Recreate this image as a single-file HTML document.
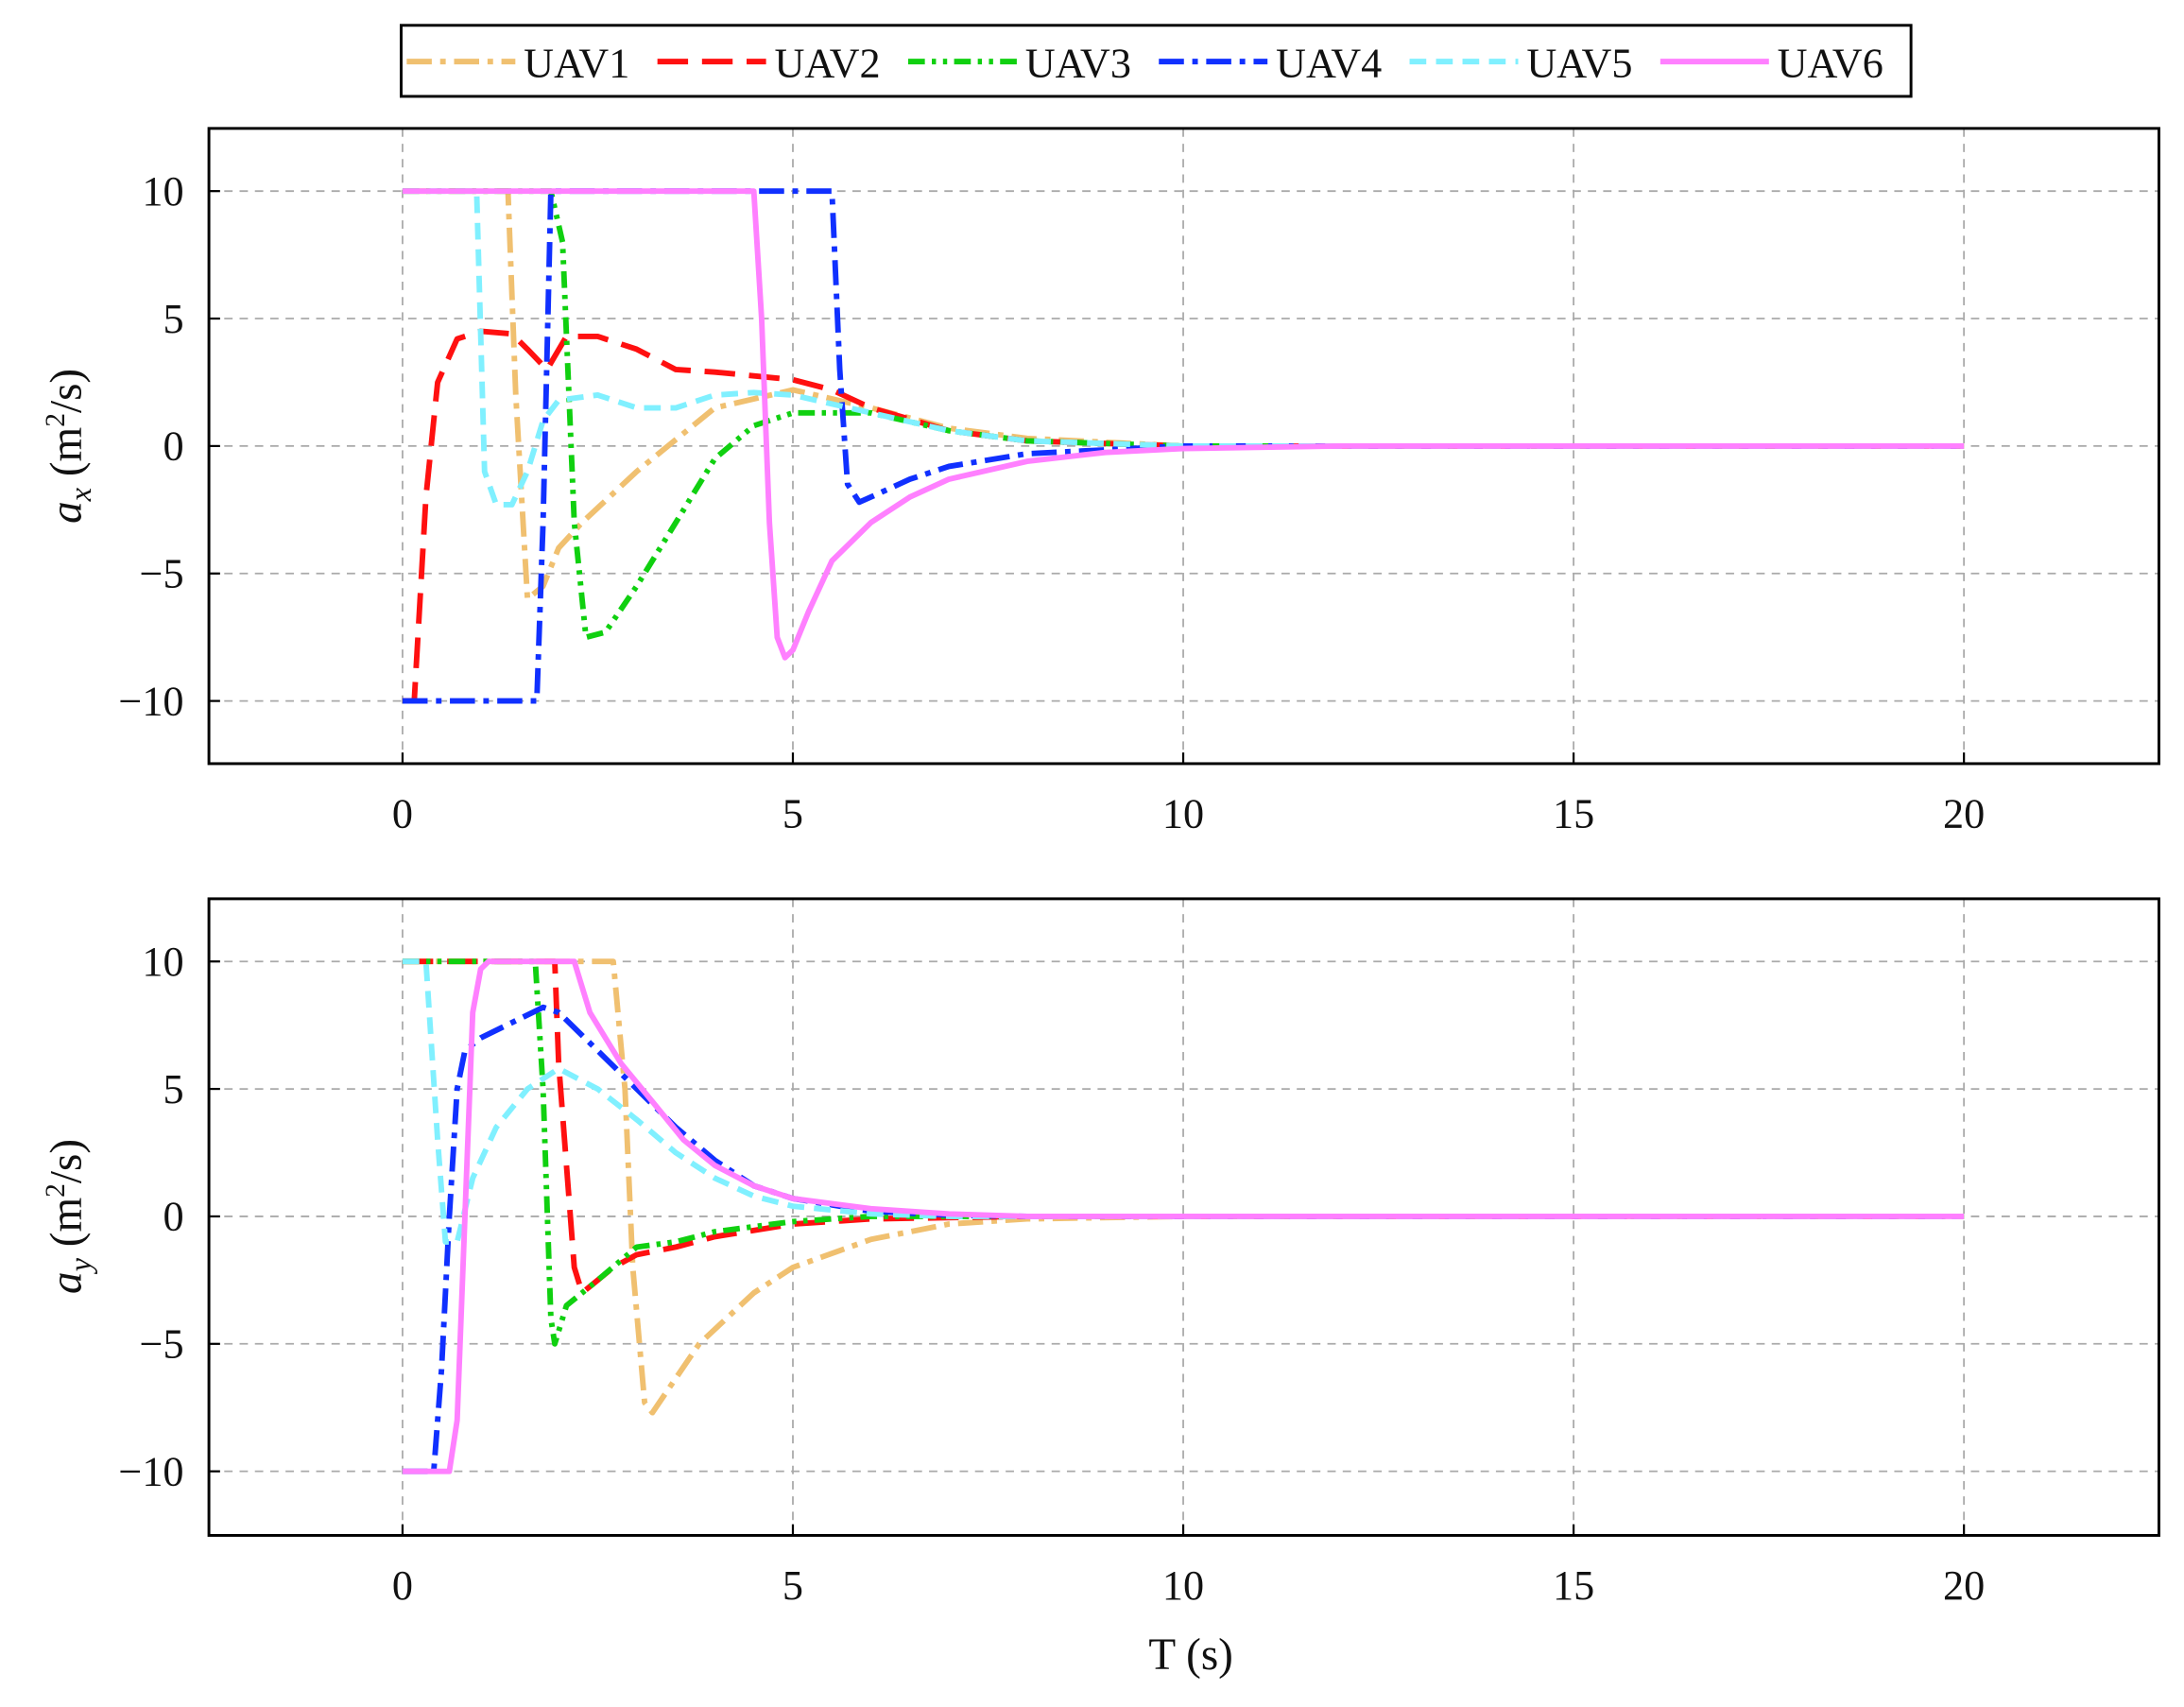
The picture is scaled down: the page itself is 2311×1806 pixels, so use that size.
<!DOCTYPE html>
<html><head><meta charset="utf-8"><style>
html,body{margin:0;padding:0;background:#fff}
svg{display:block}
text{font-family:"Liberation Serif",serif;fill:#111}
</style></head><body>
<svg id="s" width="2311" height="1806" viewBox="0 0 1568 1225" xmlns="http://www.w3.org/2000/svg">
<rect x="0" y="0" width="1568" height="1225" fill="#fff"/>
<rect x="288" y="18" width="1084" height="51" fill="#fff" stroke="#000" stroke-width="2"/>
<g font-size="30">
<line x1="292" y1="44" x2="370" y2="44" stroke="#f0c070" stroke-width="4" stroke-dasharray="18,6,4,6"/>
<text x="376" y="55">UAV1</text>
<line x1="472" y1="44" x2="550" y2="44" stroke="#ff1010" stroke-width="4" stroke-dasharray="22,10"/>
<text x="556" y="55">UAV2</text>
<line x1="652" y1="44" x2="730" y2="44" stroke="#10d010" stroke-width="4" stroke-dasharray="12,5,3,5,3,5"/>
<text x="736" y="55">UAV3</text>
<line x1="832" y1="44" x2="910" y2="44" stroke="#1030ff" stroke-width="4" stroke-dasharray="18,6,4,6"/>
<text x="916" y="55">UAV4</text>
<line x1="1012" y1="44" x2="1090" y2="44" stroke="#80f0ff" stroke-width="4" stroke-dasharray="12,7"/>
<text x="1096" y="55">UAV5</text>
<line x1="1192" y1="44" x2="1270" y2="44" stroke="#ff80ff" stroke-width="4"/>
<text x="1276" y="55">UAV6</text>
</g>
<g id="plots"></g>
</svg>
<script>
(function(){
const NS="http://www.w3.org/2000/svg";
const g=document.getElementById('plots');
function el(t,a,txt){const e=document.createElementNS(NS,t);for(const k in a)e.setAttribute(k,a[k]);if(txt!==undefined)e.textContent=txt;g.appendChild(e);return e;}
const X=t=>289+56.05*t;
const styles=[
 {c:"#f0c070",d:"18,6,4,6"},{c:"#ff1010",d:"22,10"},{c:"#10d010",d:"12,5,3,5,3,5"},
 {c:"#1030ff",d:"18,6,4,6"},{c:"#80f0ff",d:"12,7"},{c:"#ff80ff",d:"none"}];
const dTop=[
[[0,10],[1.35,10],[1.45,2],[1.6,-6],[1.8,-5.5],[2,-4],[2.3,-3],[3,-1],[4,1.5],[5,2.2],[6,1.5],[7,0.7],[8,0.3],[10,0],[20,0]],
[[0,-10],[0.15,-10],[0.3,-2],[0.45,2.5],[0.7,4.2],[1,4.5],[1.4,4.4],[1.6,3.8],[1.85,3],[2.1,4.3],[2.5,4.3],[3,3.8],[3.5,3],[4,2.9],[5,2.6],[5.5,2.2],[6,1.5],[7,0.6],[8,0.2],[10,0],[20,0]],
[[0,10],[1.9,10],[2.05,8],[2.2,-3],[2.35,-7.5],[2.6,-7.3],[3,-5.5],[3.5,-3],[4,-0.5],[4.5,0.8],[5,1.3],[6,1.3],[7,0.6],[8,0.2],[10,0],[20,0]],
[[0,-10],[1.72,-10],[1.8,-3],[1.9,10],[5.5,10],[5.6,3],[5.7,-1.5],[5.85,-2.2],[6,-2],[6.5,-1.3],[7,-0.8],[8,-0.3],[10,0],[20,0]],
[[0,10],[0.95,10],[1.05,-1],[1.2,-2.3],[1.4,-2.3],[1.6,-1],[1.8,1],[2,1.8],[2.5,2],[3,1.5],[3.5,1.5],[4,2],[4.5,2.1],[5,2],[6,1.3],[7,0.6],[8,0.2],[10,0],[20,0]],
[[0,10],[4.5,10],[4.6,5],[4.7,-3],[4.8,-7.5],[4.9,-8.3],[5,-8],[5.2,-6.5],[5.5,-4.5],[6,-3],[6.5,-2],[7,-1.3],[8,-0.6],[9,-0.25],[10,-0.1],[12,0],[20,0]]];
const dBot=[
[[0,10],[2.7,10],[2.85,5],[2.95,-2],[3.1,-7.3],[3.2,-7.7],[3.4,-6.8],[3.8,-5],[4.5,-3],[5,-2],[6,-0.9],[7,-0.3],[8,-0.1],[10,0],[20,0]],
[[0,10],[1.95,10],[2,6],[2.1,2],[2.2,-2],[2.3,-3],[2.5,-2.5],[2.7,-2],[3,-1.5],[3.5,-1.2],[4,-0.8],[5,-0.3],[6,-0.1],[8,0],[20,0]],
[[0,10],[1.7,10],[1.8,5],[1.9,-4],[1.95,-5],[2.1,-3.5],[2.5,-2.5],[3,-1.2],[3.5,-1],[4,-0.6],[5,-0.2],[6,0],[20,0]],
[[0,-10],[0.4,-10],[0.5,-6],[0.6,0],[0.7,5],[0.8,6.5],[1,7],[1.4,7.6],[1.8,8.2],[2,8],[2.5,6.5],[3,5],[3.5,3.5],[4,2.2],[4.5,1.2],[5,0.7],[6,0.2],[7,0.05],[8,0],[20,0]],
[[0,10],[0.3,10],[0.45,3],[0.55,-1],[0.7,-1],[0.9,1.5],[1.2,3.5],[1.6,5],[2,5.8],[2.5,5],[3,3.8],[3.5,2.5],[4,1.5],[4.5,0.8],[5,0.4],[6,0.1],[7,0],[20,0]],
[[0,-10],[0.6,-10],[0.7,-8],[0.8,0],[0.9,8],[1,9.7],[1.1,10],[2.2,10],[2.4,8],[2.8,6],[3.2,4.5],[3.6,3],[4,2],[4.5,1.2],[5,0.7],[6,0.3],[7,0.1],[8,0],[20,0]]];
function plot(y0,y1,zero,data,lab){
  const Y=v=>zero-18.3*v;
  for(const t of [0,5,10,15,20]) el('line',{x1:X(t),x2:X(t),y1:y0,y2:y1,stroke:"#aaa","stroke-width":1.2,"stroke-dasharray":"6,5"});
  for(const v of [-10,-5,0,5,10]) el('line',{x1:150,x2:1550,y1:Y(v),y2:Y(v),stroke:"#aaa","stroke-width":1.2,"stroke-dasharray":"6,5"});
  data.forEach((d,i)=>{el('polyline',{points:d.map(p=>X(p[0]).toFixed(1)+","+Y(p[1]).toFixed(1)).join(" "),fill:"none",stroke:styles[i].c,"stroke-width":4,"stroke-dasharray":styles[i].d,"stroke-linejoin":"round"});});
  el('rect',{x:150,y:y0,width:1400,height:y1-y0,fill:"none",stroke:"#000","stroke-width":2});
  for(const v of [-10,-5,0,5,10]){el('text',{x:132,y:Y(v)+10,"text-anchor":"end","font-size":30},v===-10?"\u221210":v===-5?"\u22125":String(v));
    el('line',{x1:150,x2:158,y1:Y(v),y2:Y(v),stroke:"#000","stroke-width":1.5});}
  for(const t of [0,5,10,15,20]){el('text',{x:X(t),y:y1+46,"text-anchor":"middle","font-size":30},String(t));
    el('line',{x1:X(t),x2:X(t),y1:y1,y2:y1-8,stroke:"#000","stroke-width":1.5});}
  const tx=el('text',{transform:"translate(58,"+zero+") rotate(-90)","text-anchor":"middle","font-size":32});
  tx.innerHTML='<tspan font-style="italic">a</tspan><tspan font-style="italic" font-size="22" dy="7">'+lab+'</tspan><tspan dy="-7"> (m</tspan><tspan font-size="20" dy="-12">2</tspan><tspan dy="12">/s)</tspan>';
}
plot(92,548,320,dTop,"x");
plot(645,1102,873,dBot,"y");
el('text',{x:855,y:1198,"text-anchor":"middle","font-size":32},"T (s)");
})();
</script>
</body></html>
